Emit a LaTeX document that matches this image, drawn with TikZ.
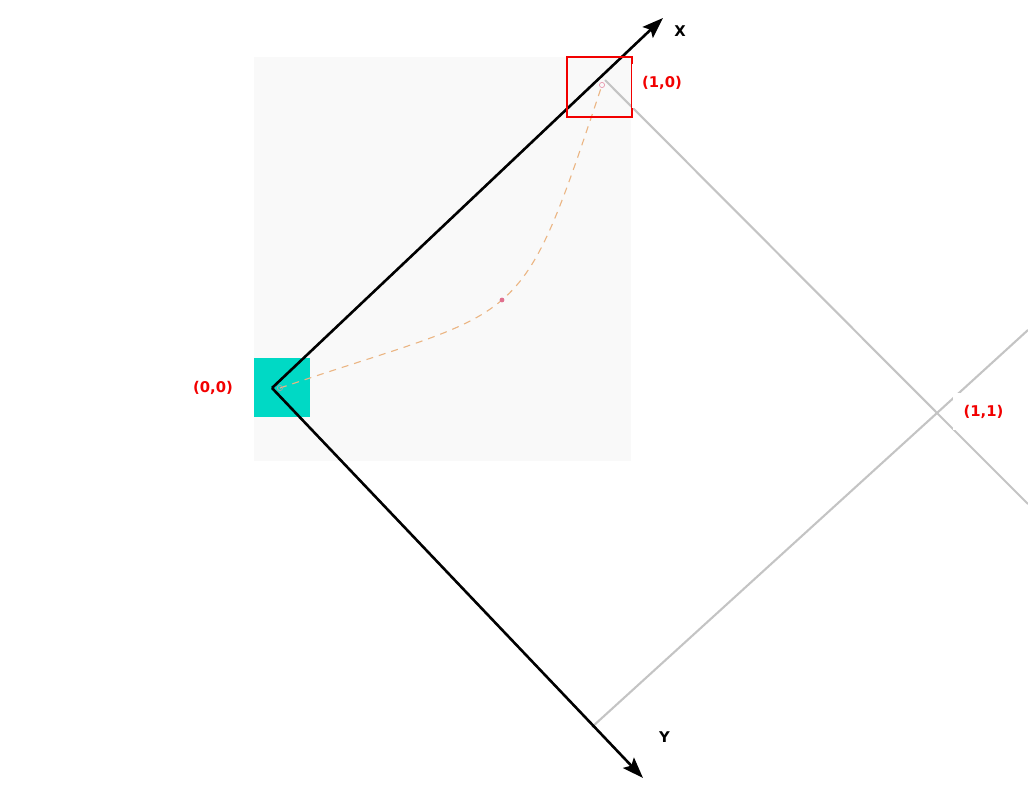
\documentclass[tikz,border=0pt]{standalone}
\usepackage{fontspec}
\setmainfont{DejaVu Sans}
\usetikzlibrary{arrows.meta}
\definecolor{bgpanel}{HTML}{F9F9F9}
\definecolor{cyanbox}{HTML}{00D9C5}
\definecolor{gridgray}{HTML}{C4C4C4}
\definecolor{curveor}{HTML}{EBB583}
\definecolor{dotpink}{HTML}{E0708E}
\definecolor{lblred}{HTML}{F20000}
\tikzset{
  axisline/.style={line width=2.6pt, black, -{Stealth[length=21pt, width=15pt, inset=4pt]}},
  gridline/.style={line width=2.1pt, gridgray},
  easecurve/.style={line width=1.1pt, curveor, dash pattern=on 7pt off 6pt},
  ptlabel/.style={text=lblred, font=\fontsize{14.8}{16}\selectfont\bfseries, inner sep=0pt},
  axlabel/.style={text=black, font=\fontsize{14.8}{16}\selectfont\bfseries, inner sep=0pt},
  whitebg/.style={fill=white, minimum width=62pt, minimum height=44pt}
}
\begin{document}
\begin{tikzpicture}[x=1pt, y=-1pt]
\useasboundingbox (0,0) rectangle (1028,786);
% background panel
\fill[bgpanel] (254,57) rectangle (631,460.5);
% cyan square
\fill[cyanbox] (254,358) rectangle (310,417);
% coordinates
\coordinate (O) at (272,388);
\coordinate (Xtip) at (663,18);
\coordinate (Ytip) at (643,778);
\coordinate (P10) at (605,80);
\coordinate (P01) at (592,727);
\coordinate (P11) at (937,413);
\coordinate (G1end) at (1028,504);
\coordinate (G2end) at (1028,330);
\coordinate (C0) at (280,388);
\coordinate (C1) at (602,85);
\coordinate (Cmid) at (502,300);
% grey grid lines
\draw[gridline] (P10) -- (P11) -- (G1end);
\draw[gridline] (P01) -- (P11) -- (G2end);
% axes
\draw[axisline] (O) -- (Xtip);
\draw[axisline] (O) -- (Ytip);
% dashed easing curve
\draw[easecurve] (C0) .. controls (527,304) and (518,338) .. (C1);
\draw[gray!70, line width=0.7pt] (C0) circle (2.6pt);
\draw[dotpink!70, line width=0.7pt] (C1) circle (2.6pt);
\fill[dotpink] (Cmid) circle (2.4pt);
% red box
\draw[lblred, line width=2.4pt] (567,57) rectangle (632,117);
% labels
\node[ptlabel] (l00) at (213,388) {(0,0)};
\node[whitebg, inner sep=0pt] (bg10) at (663,86) {};
\node[ptlabel] (l10) at (662,83) {(1,0)};
\node[whitebg, minimum height=37pt, inner sep=0pt] (bg11) at (984,411.5) {};
\node[ptlabel] (l11) at (983.5,412) {(1,1)};
\node[axlabel] (lx) at (680,31) {X};
\node[axlabel] (ly) at (664.5,737.5) {Y};
\end{tikzpicture}
\end{document}
